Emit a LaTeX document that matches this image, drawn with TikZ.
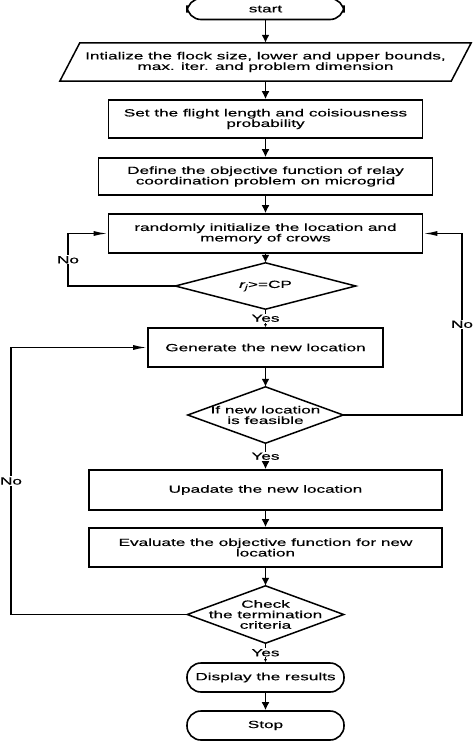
\documentclass[tikz,border=0pt]{standalone}
\usepackage{fontspec}
\setmainfont[FakeStretch=1.65,FakeBold=0.4]{Liberation Sans}
\usetikzlibrary{shapes.geometric,arrows.meta,calc}
\begin{document}
\begin{tikzpicture}[x=1pt,y=-1pt,
  every node/.style={font=\fontsize{10.4}{10.5}\selectfont, align=center, inner sep=0pt},
  proc/.style={draw, line width=1.6pt, rectangle},
  term/.style={draw, line width=1.6pt, rectangle, rounded corners=14pt},
  dec/.style={rectangle},
  flow/.style={line width=1.7pt, -{Latex[length=8pt,width=8pt]}},
  loop/.style={line width=1.5pt, -{Latex[length=14pt,width=5pt]}},
  yesarrow/.style={line width=1.4pt, -{Latex[length=3pt,width=3pt]}},
  lbl/.style={fill=white, inner sep=1pt}]
\useasboundingbox (0,0) rectangle (474,741);
\node[term, minimum width=157pt, minimum height=21pt] (start) at (265.5,9) {start};
\node[minimum width=391pt, minimum height=38pt] (init) at (265.5,62) {Intialize the flock size, lower and upper bounds,\\max. iter. and problem dimension};
\draw[line width=1.5pt] ($(init.north west)+(10,0)$) -- ($(init.north east)+(10,0)$) -- ($(init.south east)+(-10,0)$) -- ($(init.south west)+(-10,0)$) -- cycle;
\node[proc, minimum width=314pt, minimum height=38pt] (flight) at (265.5,119) {Set the flight length and coisiousness\\probability};
\node[proc, minimum width=334pt, minimum height=37pt] (define) at (265.5,176.5) {Define the objective function of relay\\coordination problem on microgrid};
\node[proc, minimum width=314pt, minimum height=39pt] (rand) at (265.5,233.5) {randomly initialize the location and\\memory of crows};
\node[dec, minimum width=180pt, minimum height=46pt] (d1) at (265.5,286) {{\itshape r}\textsubscript{\itshape j}>=CP};
\node[proc, minimum width=235pt, minimum height=39pt] (gen) at (265.5,347.5) {Generate the new location};
\node[dec, minimum width=155pt, minimum height=56pt] (d2) at (265.5,415) {If new location\\is feasible};
\node[proc, minimum width=353pt, minimum height=40pt] (upd) at (265.5,490) {Upadate the new location};
\node[proc, minimum width=353pt, minimum height=39pt] (eval) at (265.5,547.5) {Evaluate the objective function for new\\location};
\node[dec, minimum width=156pt, minimum height=57pt] (d3) at (265.5,614.5) {Check\\the termination\\criteria};
\node[term, minimum width=157pt, minimum height=29pt] (disp) at (265.5,677.5) {Display the results};
\node[term, minimum width=157pt, minimum height=29pt] (stop) at (265.5,725.5) {Stop};
\foreach \d in {d1,d2,d3}
  \draw[line width=1.5pt] (\d.north) -- (\d.east) -- (\d.south) -- (\d.west) -- cycle;
\draw[flow] (start) -- (init);
\draw[flow] (init) -- (flight);
\draw[flow] (flight) -- (define);
\draw[flow] (define) -- (rand);
\draw[flow] (rand) -- (d1.north);
\draw[yesarrow] (d1.south) -- node[lbl]{Yes} (gen.north);
\draw[flow] (gen) -- (d2.north);
\draw[flow] (d2.south) -- node[lbl]{Yes} (upd.north);
\draw[flow] (upd) -- (eval);
\draw[flow] (eval) -- (d3.north);
\draw[yesarrow] (d3.south) -- node[lbl]{Yes} (disp.north);
\draw[flow] (disp) -- (stop);
\coordinate (l1) at (68,286);
\coordinate (r1) at (462,415);
\coordinate (l3) at (11,614.5);
\draw[loop] (d1.west) -- (l1) -- node[lbl, pos=0.5]{No} (l1 |- rand.west) -- (rand.west);
\draw[loop] (d2.east) -- (r1) -- node[lbl, pos=0.5]{No} (r1 |- rand.east) -- (rand.east);
\draw[loop] (d3.west) -- (l3) -- node[lbl, pos=0.5]{No} (l3 |- gen.west) -- (gen.west);
\end{tikzpicture}
\end{document}
